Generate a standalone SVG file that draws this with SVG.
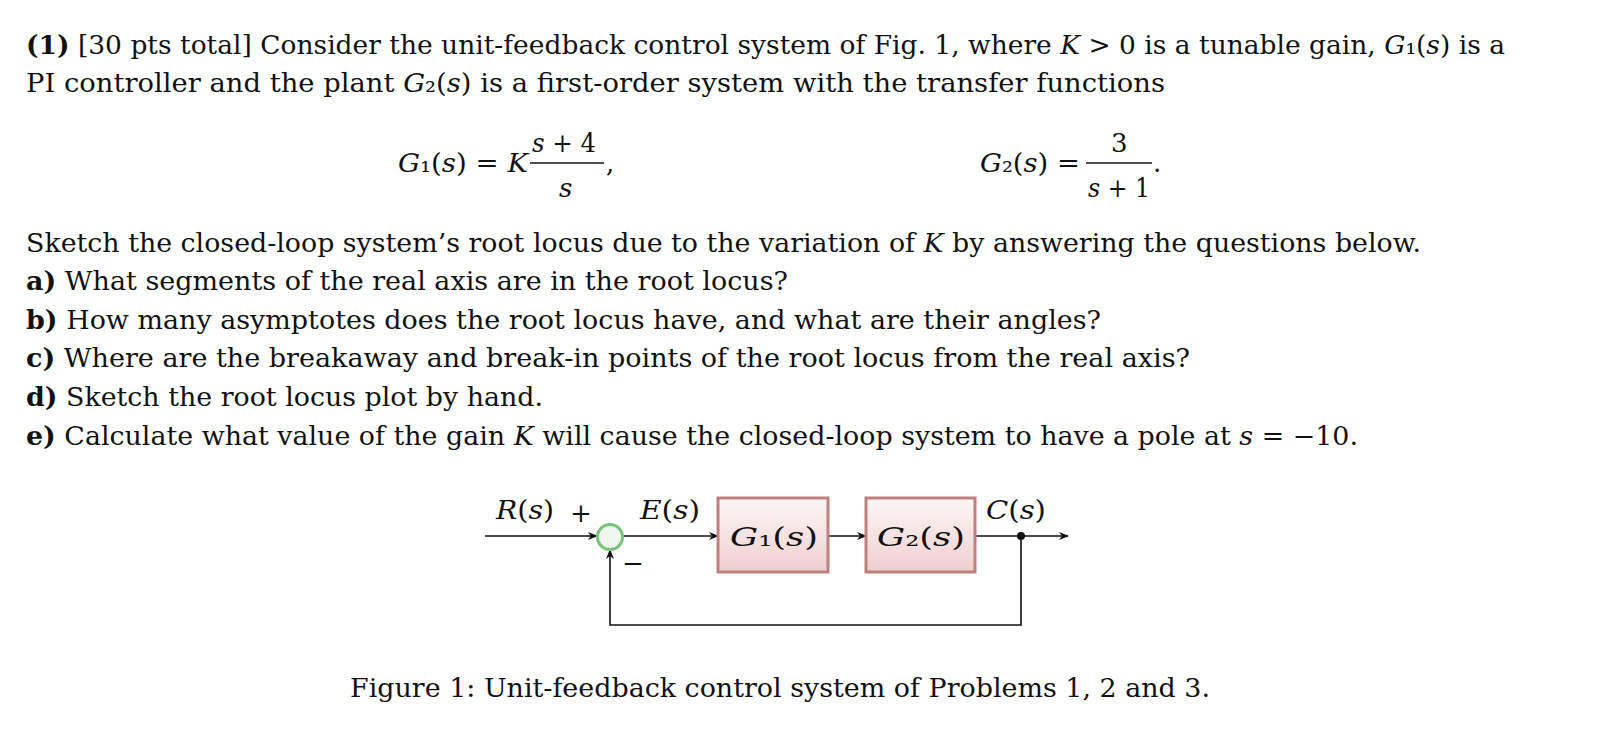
<svg xmlns="http://www.w3.org/2000/svg" width="1622" height="747" viewBox="0 0 1622 747">
<style>
text{font-family:"DejaVu Serif","Liberation Serif",serif;font-size:26px;fill:#111}
.i{font-style:italic}
.b{font-weight:bold}
.ln{stroke:#111;stroke-width:1.6;fill:none}
</style>
<defs>
<marker id="a" markerWidth="10" markerHeight="8" refX="9" refY="4" orient="auto" markerUnits="userSpaceOnUse"><path d="M0,0 L10,4 L0,8 L3,4 Z" fill="#111"/></marker>
<linearGradient id="g" x1="0" y1="0" x2="0" y2="1"><stop offset="0" stop-color="#fdf6f6"/><stop offset="1" stop-color="#efcfcf"/></linearGradient>
</defs>
<rect width="1622" height="747" fill="#fff"/>
<text x="26" y="54" textLength="1479" lengthAdjust="spacingAndGlyphs"><tspan class="b">(1)</tspan> [30 pts total] Consider the unit-feedback control system of Fig. 1, where <tspan class="i">K</tspan> &gt; 0 is a tunable gain, <tspan class="i">G</tspan>₁(<tspan class="i">s</tspan>) is a</text>
<text x="26" y="92" textLength="1139" lengthAdjust="spacingAndGlyphs">PI controller and the plant <tspan class="i">G</tspan>₂(<tspan class="i">s</tspan>) is a first-order system with the transfer functions</text>
<text x="398" y="172" textLength="130" lengthAdjust="spacingAndGlyphs"><tspan class="i">G</tspan>₁(<tspan class="i">s</tspan>) = <tspan class="i">K</tspan></text>
<text x="532" y="152" class="i" textLength="64" lengthAdjust="spacingAndGlyphs">s<tspan font-style="normal"> + 4</tspan></text>
<line x1="530" y1="163" x2="604" y2="163" class="ln"/>
<text x="559" y="197" class="i">s</text>
<text x="606" y="172">,</text>
<text x="980" y="172" textLength="100" lengthAdjust="spacingAndGlyphs"><tspan class="i">G</tspan>₂(<tspan class="i">s</tspan>) =</text>
<text x="1111" y="152">3</text>
<line x1="1086" y1="163" x2="1152" y2="163" class="ln"/>
<text x="1088" y="197" class="i" textLength="62" lengthAdjust="spacingAndGlyphs">s<tspan font-style="normal"> + 1</tspan></text>
<text x="1153" y="172">.</text>
<text x="26" y="252" textLength="1395" lengthAdjust="spacingAndGlyphs">Sketch the closed-loop system’s root locus due to the variation of <tspan class="i">K</tspan> by answering the questions below.</text>
<text x="26" y="290" textLength="762" lengthAdjust="spacingAndGlyphs"><tspan class="b">a)</tspan> What segments of the real axis are in the root locus?</text>
<text x="26" y="329" textLength="1075" lengthAdjust="spacingAndGlyphs"><tspan class="b">b)</tspan> How many asymptotes does the root locus have, and what are their angles?</text>
<text x="26" y="367" textLength="1164" lengthAdjust="spacingAndGlyphs"><tspan class="b">c)</tspan> Where are the breakaway and break-in points of the root locus from the real axis?</text>
<text x="26" y="406" textLength="517" lengthAdjust="spacingAndGlyphs"><tspan class="b">d)</tspan> Sketch the root locus plot by hand.</text>
<text x="26" y="445" textLength="1332" lengthAdjust="spacingAndGlyphs"><tspan class="b">e)</tspan> Calculate what value of the gain <tspan class="i">K</tspan> will cause the closed-loop system to have a pole at <tspan class="i">s</tspan> = −10.</text>
<g id="connectors">
<line x1="485" y1="536" x2="597" y2="536" class="ln" marker-end="url(#a)"/>
<line x1="623" y1="536" x2="718" y2="536" class="ln" marker-end="url(#a)"/>
<line x1="828" y1="536" x2="866" y2="536" class="ln" marker-end="url(#a)"/>
<line x1="975" y1="536" x2="1068" y2="536" class="ln" marker-end="url(#a)"/>
<polyline points="1021,536 1021,625 610,625 610,550" class="ln" marker-end="url(#a)"/>
<circle cx="1021" cy="536" r="4" fill="#111"/>
</g>
<g id="sum"><circle cx="610" cy="537" r="12.5" fill="#eef6ee" stroke="#7cc07c" stroke-width="3"/></g>
<g id="G1"><rect x="718" y="498" width="110" height="74" fill="url(#g)" stroke="#c08080" stroke-width="3"/><text x="730" y="546" font-size="30" textLength="88" lengthAdjust="spacingAndGlyphs"><tspan class="i">G</tspan>₁(<tspan class="i">s</tspan>)</text></g>
<g id="G2"><rect x="866" y="498" width="109" height="74" fill="url(#g)" stroke="#c08080" stroke-width="3"/><text x="877" y="546" font-size="30" textLength="88" lengthAdjust="spacingAndGlyphs"><tspan class="i">G</tspan>₂(<tspan class="i">s</tspan>)</text></g>
<text x="496" y="519" textLength="58" lengthAdjust="spacingAndGlyphs"><tspan class="i">R</tspan>(<tspan class="i">s</tspan>)</text>
<text x="570" y="522">+</text>
<text x="622" y="572">−</text>
<text x="640" y="519" textLength="60" lengthAdjust="spacingAndGlyphs"><tspan class="i">E</tspan>(<tspan class="i">s</tspan>)</text>
<text x="986" y="519" textLength="60" lengthAdjust="spacingAndGlyphs"><tspan class="i">C</tspan>(<tspan class="i">s</tspan>)</text>
<text x="350" y="697" textLength="860" lengthAdjust="spacingAndGlyphs">Figure 1: Unit-feedback control system of Problems 1, 2 and 3.</text>
</svg>
